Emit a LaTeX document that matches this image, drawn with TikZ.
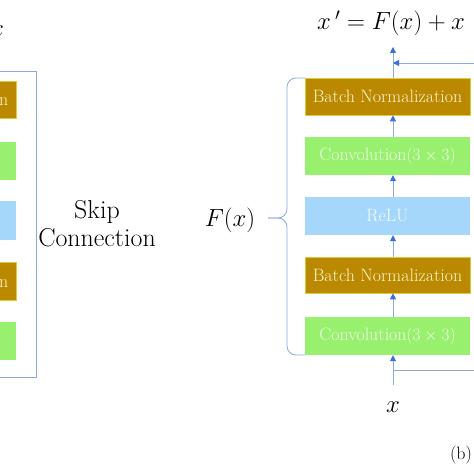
\documentclass[tikz,border=0pt]{standalone}
\usetikzlibrary{arrows.meta}
\definecolor{bngold}{RGB}{187,137,0}
\definecolor{bnedge}{RGB}{228,200,60}
\definecolor{convgreen}{RGB}{152,240,110}
\definecolor{relublue}{RGB}{165,215,250}
\definecolor{linecol}{RGB}{140,170,225}
\definecolor{tipcol}{RGB}{60,110,225}
\begin{document}
\begin{tikzpicture}
[   x=1bp, y=-1bp,
    box/.style={fill=#1, minimum width=165bp, minimum height=37bp, inner sep=0pt,
        font=\fontsize{18}{20}\selectfont},
    bn/.style={box=bngold, draw=bnedge, line width=0.6bp, text={rgb,255:red,252;green,244;blue,210}},
    conv/.style={box=convgreen, text={rgb,255:red,238;green,255;blue,230}},
    relu/.style={box=relublue, text={rgb,255:red,242;green,250;blue,255}},
    line/.style={draw=linecol, line width=0.8bp},
    arr/.style={line, -{Triangle[length=6bp, width=6bp, color=tipcol]}},
    big/.style={font=\fontsize{25}{27}\selectfont},
]
\useasboundingbox (0,0) rectangle (474,474);
\clip (0,0) rectangle (474,474);

% left block, cut by the frame
\node[bn] (lb2) at (-66.5,99.5) {Batch Normalization};
\node[conv, minimum height=38bp] (lc2) at (-66.5,161) {Convolution$(3\times3)$};
\node[relu, minimum height=39bp] (lr) at (-66.5,220.5) {ReLU};
\node[bn, minimum height=38bp] (lb1) at (-66.5,281) {Batch Normalization};
\node[conv, minimum height=38bp] (lc1) at (-66.5,341) {Convolution$(3\times3)$};
\node[big] (lx) at (-3,31) {$x$};

\coordinate (lt) at (36,71);
\coordinate (lbot) at (36,377);
\draw[line] (-10,71) -- (lt) -- (lbot) -- (-10,377);

\node[font=\fontsize{26}{28}\selectfont, align=center] (skip) at (97,224) {Skip\\Connection};

% right block
\node[bn] (b2) at (387.5,96.5) {Batch Normalization};
\node[conv, minimum height=38bp] (c2) at (387.5,156) {Convolution$(3\times3)$};
\node[relu, minimum height=38bp] (r) at (387.5,216) {ReLU};
\node[bn, minimum height=36bp] (b1) at (387.5,275) {Batch Normalization};
\node[conv, minimum height=38bp] (c1) at (387.5,336) {Convolution$(3\times3)$};

\node[big] (x) at (393,407) {$x$};
\node[big] (y) at (391,23) {$x\,'=F(x)+x$};
\node[big] (F) at (230,220) {$F(x)$};
\node[font=\fontsize{18}{20}\selectfont] (b) at (461,455) {(b)};

\coordinate (m) at (393,0);
\coordinate (xin) at (393,385);
\coordinate (yout) at (393,47);
\coordinate (s1) at (393,370);
\coordinate (s2) at (393,63);

\draw[arr] (xin) -- (c1.south -| m);
\draw[arr] (c1.north -| m) -- (b1.south -| m);
\draw[arr] (b1.north -| m) -- (r.south -| m);
\draw[arr] (r.north -| m) -- (c2.south -| m);
\draw[arr] (c2.north -| m) -- (b2.south -| m);
\draw[arr] (b2.north -| m) -- (yout);

\draw[arr] (s1) -- (500,370) -- (500,63) -- (s2);

% brace
\draw[line, rounded corners=9bp] (305,78) -- (287,78) -- (287,218) -- (268,218);
\draw[line, rounded corners=9bp] (268,218) -- (287,218) -- (287,355) -- (305,355);

\end{tikzpicture}
\end{document}
